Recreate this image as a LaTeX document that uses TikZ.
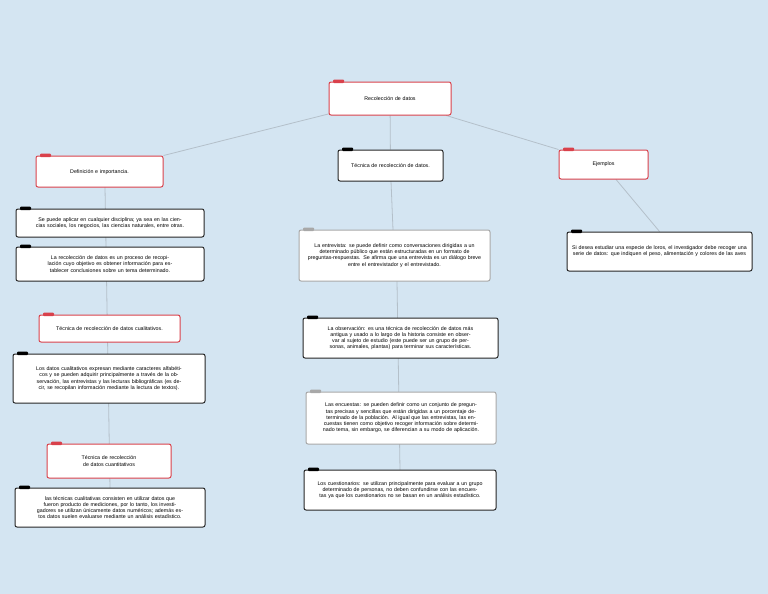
\documentclass[tikz,border=0pt]{standalone}
\usepackage{fontspec}
\setmainfont{Liberation Sans}
\usetikzlibrary{backgrounds}
\definecolor{bg}{HTML}{D4E5F2}
\definecolor{rd}{HTML}{D9414B}
\definecolor{gr}{HTML}{A8A8A8}
\definecolor{ln}{HTML}{B4C0CA}
\newcommand{\nohy}{\hyphenpenalty=10000\exhyphenpenalty=10000\relax}
\tikzset{x=1pt,y=-1pt,
 bx/.style={draw,line width=1pt,fill=white,rounded corners=2pt,align=center,font=\fontsize{5.3}{6.2}\selectfont,inner sep=0pt},
 rb/.style={bx,draw=rd},
 kb/.style={bx,draw=black!85},
 gb/.style={bx,draw=gr},
 lk/.style={ln,line width=0.8pt}}
\newcommand{\bx}[8]{% name style x1 y1 x2 y2 pad text
 \node[#2,minimum width=#5pt-#3pt,minimum height=#6pt-#4pt,text width=#5pt-#3pt-#7pt] (#1) at ({(#3+#5)/2},{(#4+#6)/2}) {\nohy #8};
 \fill[#2/tag] (#3+4,#4-2.5) rectangle (#3+15,#4+1);}
\tikzset{rb/tag/.style={rd,rounded corners=1pt},kb/tag/.style={black,rounded corners=1pt},gb/tag/.style={gr,rounded corners=1pt}}
\begin{document}
\begin{tikzpicture}
\useasboundingbox (0,0) rectangle (768,594);
\bx{root}{rb}{329}{82}{451}{115}{10}{Recolección de datos}
\bx{def}{rb}{36}{156}{163}{187}{10}{\raisebox{-6pt}{Definición e importancia.}}
\bx{tec}{kb}{338}{150}{443}{181}{4}{Técnica de recolección de datos.}
\bx{ej}{rb}{559}{150}{648}{179}{10}{Ejemplos}
\bx{d1}{kb}{16}{209}{204}{237}{6}{Se puede aplicar en cualquier disciplina; ya sea en las ciencias sociales, los negocios, las ciencias naturales, entre otras.}
\bx{d2}{kb}{16}{247}{204}{281}{10}{La recolección de datos es un proceso de recopilación cuyo objetivo es obtener información para establecer conclusiones sobre un tema determinado.}
\bx{cual}{rb}{39}{315}{180}{342}{4}{Técnica de recolección de datos cualitativos.}
\bx{cual1}{kb}{13}{354}{205}{403}{4}{Los datos cualitativos expresan mediante caracteres alfabéticos y se pueden adquirir principalmente a través de la observación, las entrevistas y las lecturas bibliográficas (es decir, se recopilan información mediante la lectura de textos).}
\bx{cuant}{rb}{47}{444}{171}{478}{24}{Técnica de recolección de datos cuantitativos}
\bx{cuant1}{kb}{15}{488}{205}{527}{6}{las técnicas cualitativas consisten en utilizar datos que fueron producto de mediciones, por lo tanto, los investigadores se utilizan únicamente datos numéricos; además estos datos suelen evaluarse mediante un análisis estadístico.}
\bx{e1}{gb}{299}{230}{490}{281}{4}{\raisebox{6pt}{\parbox{187pt}{\centering\nohy La entrevista: se puede definir como conversaciones dirigidas a un determinado público que están estructuradas en un formato de preguntas-respuestas. Se afirma que una entrevista es un diálogo breve entre el entrevistador y el entrevistado.}}}
\bx{e2}{kb}{303}{318}{498}{358}{6}{La observación: es una técnica de recolección de datos más antigua y usado a lo largo de la historia consiste en observar al sujeto de estudio (este puede ser un grupo de personas, animales, plantas) para terminar sus características.}
\bx{e3}{gb}{306}{392}{496}{444}{14}{Las encuestas: se pueden definir como un conjunto de preguntas precisas y sencillas que están dirigidas a un porcentaje determinado de la población. Al igual que las entrevistas, las encuestas tienen como objetivo recoger información sobre determinado tema, sin embargo, se diferencian a su modo de aplicación.}
\bx{e4}{kb}{304}{470}{496}{510}{6}{Los cuestionarios: se utilizan principalmente para evaluar a un grupo determinado de personas, no deben confundirse con las encuestas ya que los cuestionarios no se basan en un análisis estadístico.}
\bx{ej1}{kb}{567}{232}{752}{271}{4}{\raisebox{4pt}{\parbox{181pt}{\centering\nohy Si desea estudiar una especie de loros, el investigador debe recoger una serie de datos: que indiquen el peso, alimentación y colores de las aves}}}
\begin{scope}[on background layer]
\fill[bg] (0,0) rectangle (768,594);
\draw[lk] (root) -- (def.north east);
\draw[lk] (root) -- (tec);
\draw[lk] (root) -- (ej.north west);
\coordinate (c1) at (105,187);
\coordinate (c2) at (110,488);
\draw[lk] (c1) -- (c2);
\coordinate (t1) at (391,181);
\coordinate (t2) at (393,230);
\draw[lk] (t1) -- (t2);
\coordinate (t3) at (397,281);
\coordinate (t4) at (400,470);
\draw[lk] (t3) -- (t4);
\draw[lk] (ej) -- (ej1.north);
\end{scope}
\end{tikzpicture}
\end{document}
